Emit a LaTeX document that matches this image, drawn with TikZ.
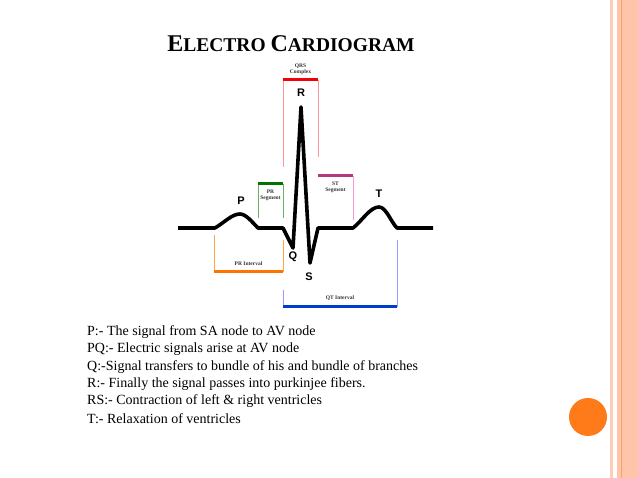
\documentclass[tikz,border=0pt]{standalone}
\usepackage{fontspec}
\setmainfont{Liberation Serif}
\newfontfamily\lsans{Liberation Sans}
\begin{document}
\begin{tikzpicture}[x=1pt,y=-1pt,
  ecg/.style={line width=3.6pt,line join=round},
  bar/.style={line width=3pt},
  tick/.style={line width=0.6pt},
  tiny/.style={font=\fontsize{5.5}{6}\selectfont\bfseries,align=center,text=black!80,inner sep=0},
  lbl/.style={font=\lsans\bfseries\fontsize{11}{11}\selectfont,inner sep=0},
  body/.style={font=\fontsize{14}{14}\selectfont,anchor=west,inner sep=0}]
\useasboundingbox (0,0) rectangle (638,478);
\fill[white] (0,0) rectangle (638,478);
% right border
\fill[orange!30!pink!60] (610,0) rectangle (613,478);
\fill[orange!30!pink!70] (617,0) rectangle (638,478);
\draw[orange!45!pink,line width=1pt] (621,0) -- (621,478);
\fill[orange!85!red!90] (588,417) circle (19);
% title
\node (title) at (291,44) {\bfseries\fontsize{24}{24}\selectfont E\fontsize{19.5}{19.5}\selectfont LECTRO \fontsize{24}{24}\selectfont C\fontsize{19.5}{19.5}\selectfont ARDIOGRAM};
% ECG trace
\draw[ecg] (178,228) -- (215,228) .. controls (225,222) and (232,214) .. (240,214) .. controls (246,214) and (252,222) .. (258,228) -- (283,228) -- (293,248) -- (301,107) -- (310,263) -- (318,228) -- (353,228) .. controls (362,221) and (370,207) .. (379,207) .. controls (386,207) and (391,222) .. (397,228) -- (433,228);
% QRS
\draw[tick,red!40] (283,80) -- (283,167) (318,80) -- (318,157);
\draw[bar,red!80!purple] (283,80) -- (318,80);
\node[tiny] (qrs) at (300.5,69) {QRS\\Complex};
% PR segment
\draw[tick,green!50!black!60] (258,184) -- (258,218) (283,184) -- (283,218);
\draw[bar,green!45!black] (258,184) -- (283,184);
\node[tiny] (prs) at (270.5,195) {PR\\Segment};
% ST segment
\draw[tick,magenta!40] (353,176) -- (353,220);
\draw[bar,magenta!70!black] (318,176) -- (353,176);
\node[tiny] (sts) at (335.5,187) {ST\\Segment};
% PR interval
\draw[tick,orange!70] (214,235) -- (214,272) (283,240) -- (283,272);
\draw[bar,orange!90!red] (214,272) -- (283,272);
\node[tiny] (pri) at (248.5,264) {PR Interval};
% QT interval
\draw[tick,blue!40] (283,290) -- (283,307) (397,240) -- (397,307);
\draw[bar,blue!70!cyan!80!black] (283,307) -- (397,307);
\node[tiny] (qti) at (340,298) {QT Interval};
% wave labels
\node[lbl] (P) at (241,201) {P};
\node[lbl] (R) at (301,93) {R};
\node[lbl] (Q) at (293,257) {Q};
\node[lbl] (S) at (309,277) {S};
\node[lbl] (T) at (379,194) {T};
% body text
\node[body] (l1) at (87,332) {P:- The signal from SA node to AV node};
\node[body] (l2) at (87,349.3) {PQ:- Electric signals arise at AV node};
\node[body] (l3) at (87,366.6) {Q:-Signal transfers to bundle of his and bundle of branches};
\node[body] (l4) at (87,383.9) {R:- Finally the signal passes into purkinjee fibers.};
\node[body] (l5) at (87,401.2) {RS:- Contraction of left \& right ventricles};
\node[body] (l6) at (87,418.5) {T:- Relaxation of ventricles};
\end{tikzpicture}
\end{document}
